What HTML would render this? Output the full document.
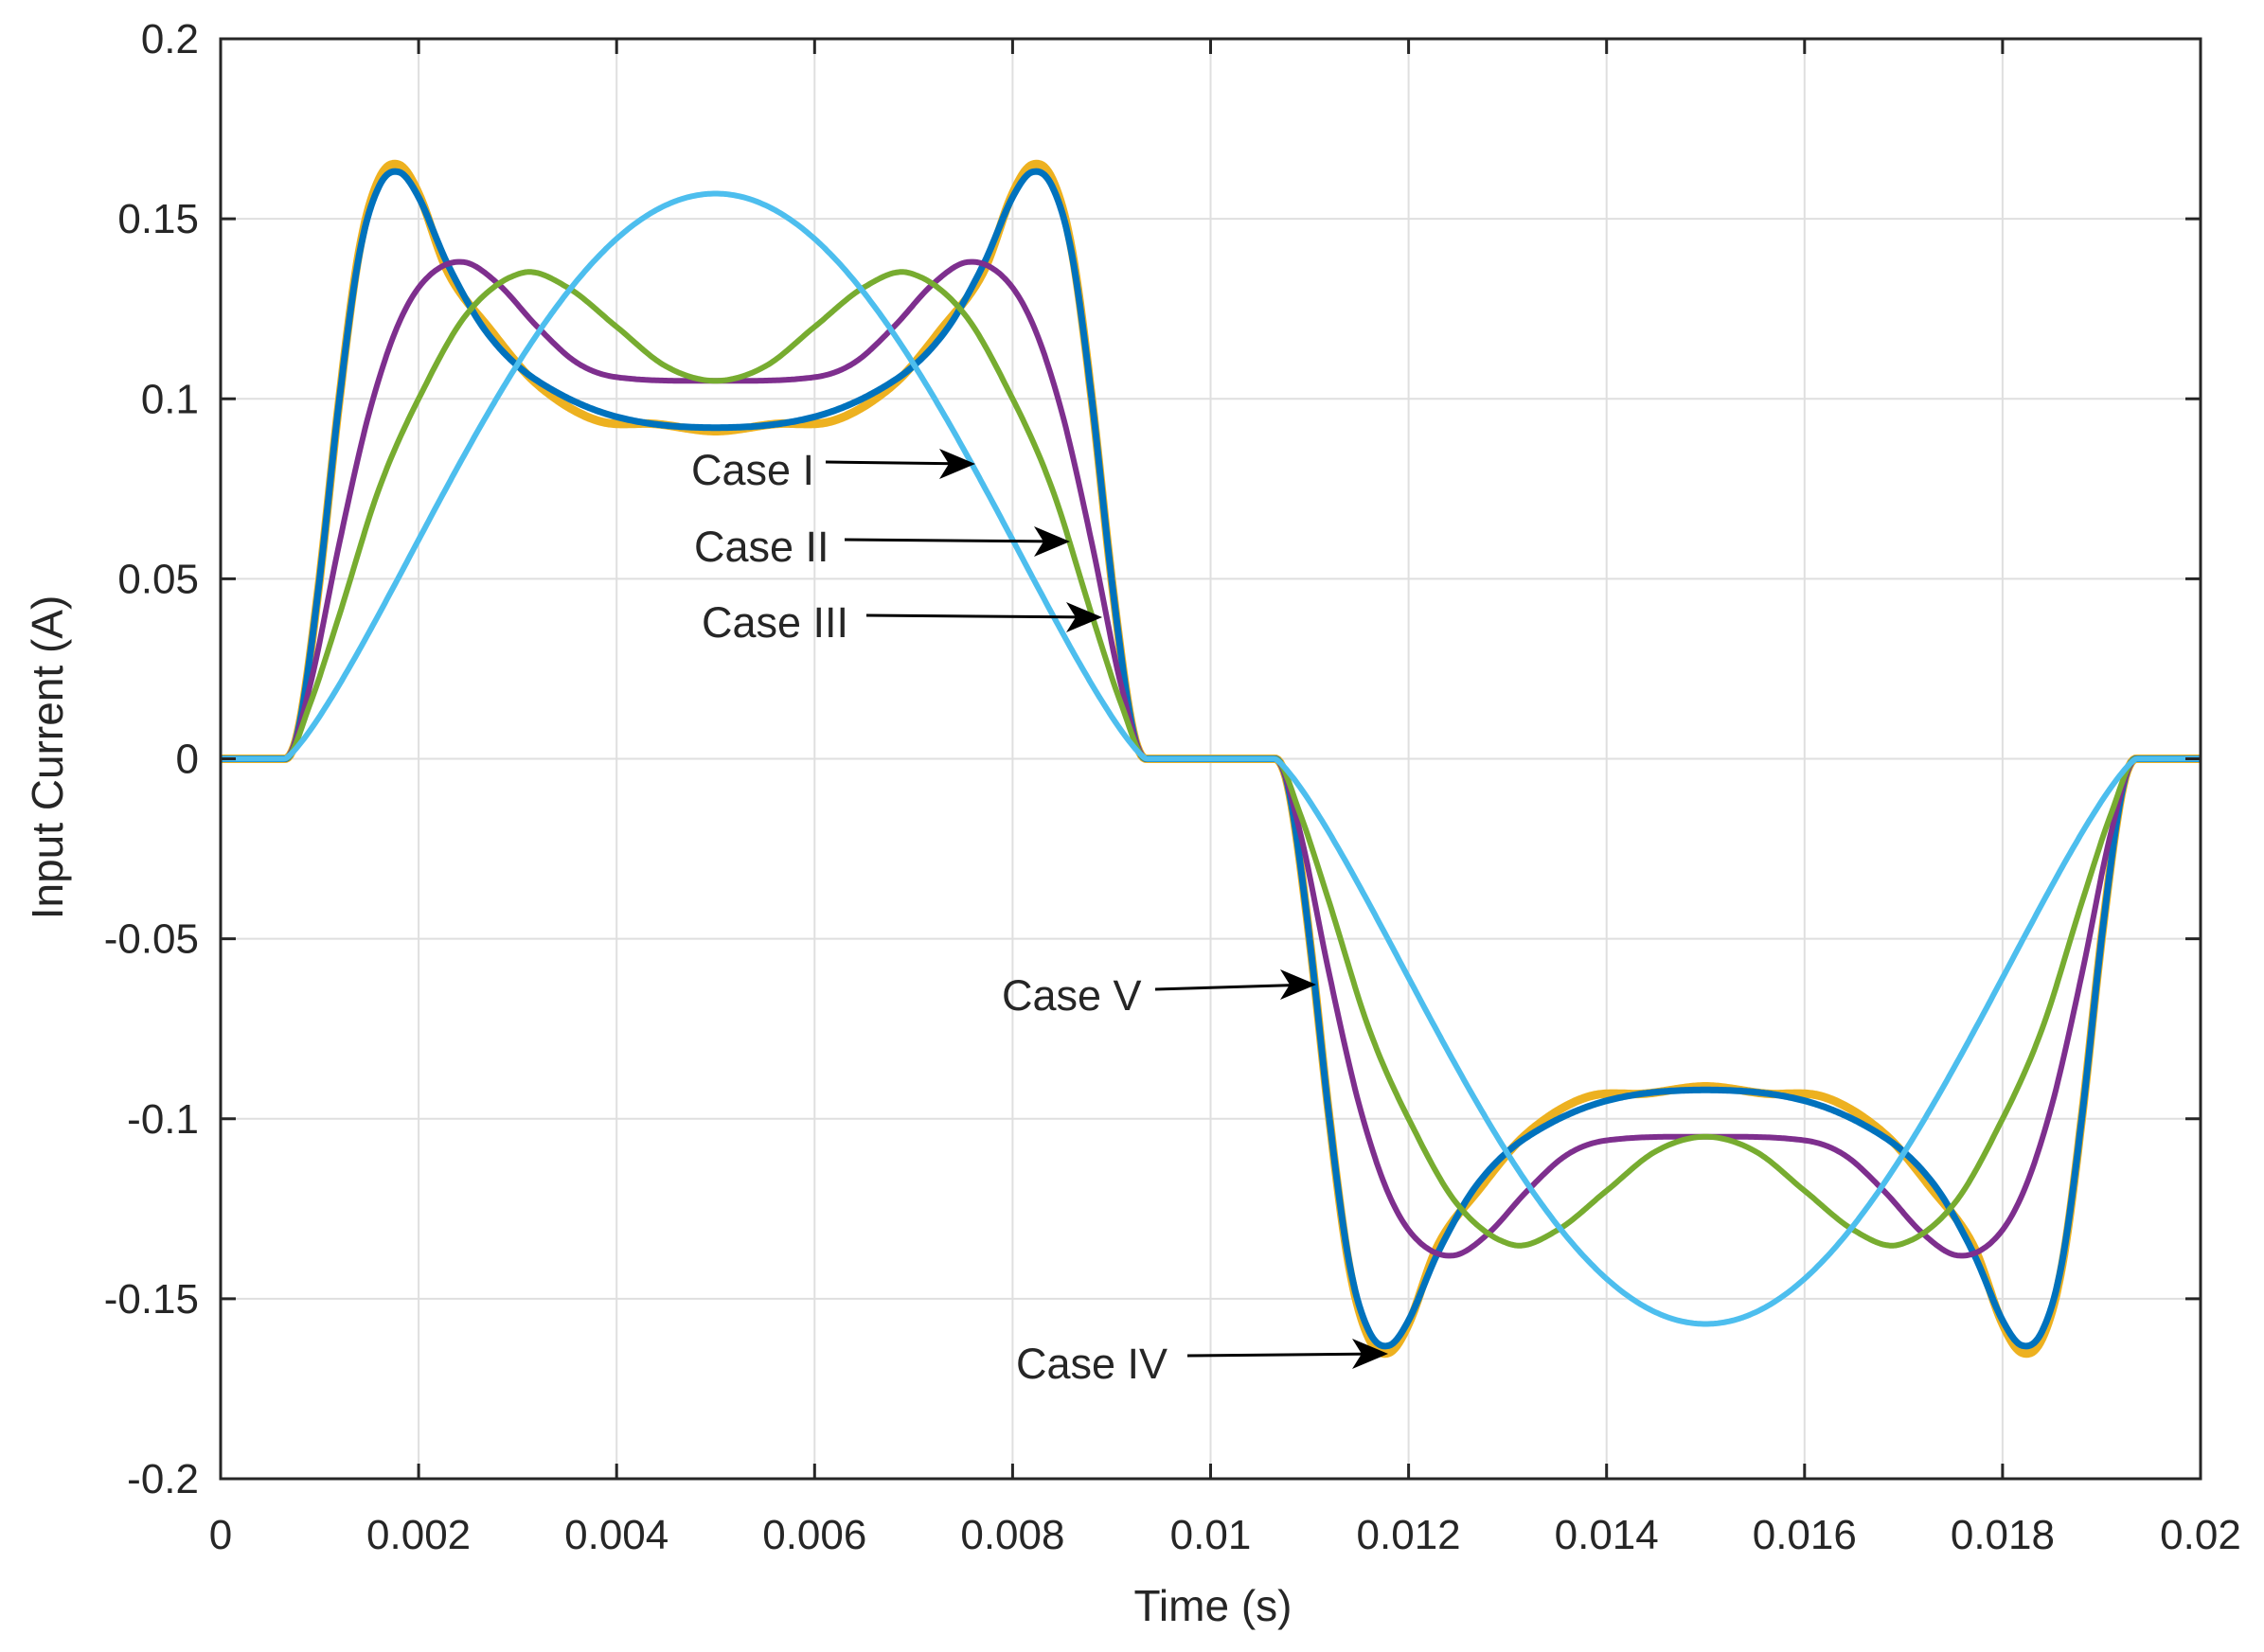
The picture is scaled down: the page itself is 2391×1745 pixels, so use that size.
<!DOCTYPE html>
<html><head><meta charset="utf-8"><style>
html,body{margin:0;padding:0;background:#fff}
svg{display:block}
text{font-family:"Liberation Sans",Arial,sans-serif;fill:#262626}
</style></head><body>
<svg id="s" width="2391" height="1745" viewBox="0 0 2391 1745" xmlns="http://www.w3.org/2000/svg">
<g id="grid"></g>
<g id="curves"></g>
<rect x="233" y="41" width="2091" height="1521" fill="none" stroke="#262626" stroke-width="3"/>
<g id="ticks"></g>
<text x="1281" y="1712" font-size="46" text-anchor="middle">Time (s)</text>
<text transform="translate(66,800) rotate(-90)" font-size="46" text-anchor="middle">Input Current (A)</text>
<g font-size="45">
<text x="730" y="512">Case I</text>
<text x="733" y="593">Case II</text>
<text x="741" y="673">Case III</text>
<text x="1058" y="1067">Case V</text>
<text x="1073" y="1456">Case IV</text>
</g>
<g stroke="#000" stroke-width="3" fill="none">
<line x1="872" y1="488" x2="1025" y2="490"/>
<line x1="892" y1="570" x2="1125" y2="572"/>
<line x1="915" y1="650" x2="1159" y2="652"/>
<line x1="1220" y1="1045" x2="1385" y2="1040"/>
<line x1="1254" y1="1432" x2="1461" y2="1430"/>
</g>
<g fill="#000">
<path d="M1030,490 l-38,-16 l10,16 l-10,16z"/>
<path d="M1130,572 l-38,-16 l10,16 l-10,16z"/>
<path d="M1164,652 l-38,-16 l10,16 l-10,16z"/>
<path d="M1390,1040 l-38,-16 l10,16 l-10,16z"/>
<path d="M1466,1430 l-38,-16 l10,16 l-10,16z"/>
</g>
</svg>
<script>
var X0=233,W=2091,Y0=801.5,H=760.5;
function px(t){return X0+t/0.02*W}
function py(v){return Y0-v/0.2*H}
var NS="http://www.w3.org/2000/svg";
function el(p,n,a){var e=document.createElementNS(NS,n);for(var k in a)e.setAttribute(k,a[k]);p.appendChild(e);return e}
var g=document.getElementById('grid'),tk=document.getElementById('ticks');
for(var i=0;i<=10;i++){var x=px(i*0.002);
 if(i>0&&i<10)el(g,'line',{x1:x,y1:41,x2:x,y2:1562,stroke:'#dfdfdf','stroke-width':2});
 el(tk,'line',{x1:x,y1:1562,x2:x,y2:1546,stroke:'#262626','stroke-width':3});
 el(tk,'line',{x1:x,y1:41,x2:x,y2:57,stroke:'#262626','stroke-width':3});
 var lab=['0','0.002','0.004','0.006','0.008','0.01','0.012','0.014','0.016','0.018','0.02'][i];
 var t=el(tk,'text',{x:x,y:1636,'font-size':44,'text-anchor':'middle'});t.textContent=lab;}
var yl=['0.2','0.15','0.1','0.05','0','-0.05','-0.1','-0.15','-0.2'];
for(var j=0;j<=8;j++){var v=0.2-j*0.05,y=py(v);
 if(j>0&&j<8)el(g,'line',{x1:233,y1:y,x2:2324,y2:y,stroke:'#dfdfdf','stroke-width':2});
 el(tk,'line',{x1:233,y1:y,x2:249,y2:y,stroke:'#262626','stroke-width':3});
 el(tk,'line',{x1:2324,y1:y,x2:2308,y2:y,stroke:'#262626','stroke-width':3});
 var t=el(tk,'text',{x:210,y:y+15,'font-size':44,'text-anchor':'end'});t.textContent=yl[j];}
function cr(pts,t){
 if(t<=pts[0][0])return pts[0][1];
 for(var k=0;k<pts.length-1;k++){if(t<=pts[k+1][0])break;}
 if(k>=pts.length-1)return pts[pts.length-1][1];
 var p0=pts[Math.max(k-1,0)],p1=pts[k],p2=pts[k+1],p3=pts[Math.min(k+2,pts.length-1)];
 var h=p2[0]-p1[0],u=(t-p1[0])/h;
 var m1=(p2[1]-p0[1])/(p2[0]-p0[0]||1)*h,m2=(p3[1]-p1[1])/(p3[0]-p1[0]||1)*h;
 if(k==0)m1=0;
 if(k==pts.length-2)m2=0;
 var u2=u*u,u3=u2*u;
 return (2*u3-3*u2+1)*p1[1]+(u3-2*u2+u)*m1+(-2*u3+3*u2)*p2[1]+(u3-u2)*m2;}
function half(pts){return function(t){if(t<=0.65||t>=9.35)return 0;if(t>5)t=10-t;return cr(pts,t)}}
function sinf(t){if(t<=0.65||t>=9.35)return 0;var s=Math.sin(Math.PI*(t-0.65)/8.7);return 0.157*Math.pow(s,1.25)}
var blue=half([[0.65,0],[0.8,0.01],[1.0,0.05],[1.2,0.1],[1.4,0.14],[1.6,0.159],[1.8,0.163],[2.0,0.156],[2.3,0.137],[2.7,0.118],[3.2,0.105],[4.0,0.095],[5.0,0.092]]);
var yel=half([[0.65,0],[0.8,0.01],[1.0,0.05],[1.2,0.1],[1.4,0.141],[1.6,0.161],[1.8,0.165],[2.0,0.157],[2.3,0.135],[2.7,0.12],[3.2,0.104],[3.8,0.094],[4.4,0.093],[5.0,0.091]]);
var pur=half([[0.65,0],[0.9,0.02],[1.2,0.06],[1.5,0.096],[1.8,0.121],[2.1,0.134],[2.45,0.138],[2.8,0.132],[3.2,0.12],[3.6,0.11],[4.0,0.106],[5,0.105]]);
var grn=half([[0.65,0],[0.9,0.015],[1.2,0.04],[1.6,0.075],[2.0,0.1],[2.5,0.124],[3.05,0.135],[3.5,0.131],[4.0,0.12],[4.5,0.109],[5,0.105]]);
function full(f){return function(ms){return ms<10?f(ms):-f(ms-10)}}
var cv=document.getElementById('curves');
function draw(f,col,w){var d='';for(var ms=0;ms<=20.0001;ms+=0.02){var v=full(f)(ms);d+=(d?'L':'M')+px(ms/1000).toFixed(1)+','+py(v).toFixed(1);}
 el(cv,'path',{d:d,fill:'none',stroke:col,'stroke-width':w,'stroke-linejoin':'round'});}
draw(yel,'#EDB120',9);
draw(blue,'#0072BD',7);
draw(pur,'#7E2F8E',6);
draw(grn,'#77AC30',6);
draw(sinf,'#4DBEEE',6);
</script>
</body></html>
